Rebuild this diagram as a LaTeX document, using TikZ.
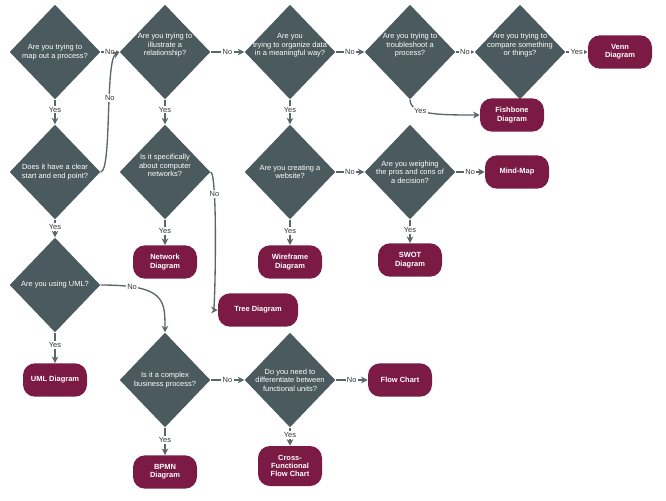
\documentclass[tikz,border=0pt]{standalone}
\usepackage{fontspec}
\setmainfont{Liberation Sans}
\usetikzlibrary{shapes.geometric,arrows.meta}
\definecolor{dia}{HTML}{4A5A5E}
\definecolor{term}{HTML}{7A1A45}
\definecolor{ln}{HTML}{5A6668}
\tikzset{
 dia/.style={diamond,fill=dia,draw=none,minimum width=68pt,minimum height=71pt,inner sep=0pt},
 dtext/.style={text=white,font=\fontsize{5.6}{6.3}\selectfont,align=center},
 term/.style={rounded corners=9pt,fill=term,text=white,font=\bfseries\fontsize{5.6}{6.3}\selectfont,align=center,minimum width=48pt,minimum height=25pt,inner sep=1pt},
 con/.style={draw=ln,line width=1pt,-{Stealth[length=5pt,width=5pt]}},
 lab/.style={fill=white,text=black!80,font=\fontsize{5.6}{6.3}\selectfont,inner sep=1pt},
}
\begin{document}
\begin{tikzpicture}[x=0.75pt,y=-0.75pt]
\useasboundingbox (0,0) rectangle (666,500);
\foreach \n/\x/\y in {d1/55/52,d2/55/172,d3/55/285,d4/165/52,d5/165/172,d6/290/52,d7/290/172,d8/410/52,d9/410/172,d10/520/52,d11/165/380,d12/290/380}
  \node[dia] (\n) at (\x,\y) {};
\node[dtext] at (d1) {Are you trying to\\map out a process?};
\node[dtext] at (d2) {Does it have a clear\\start and end point?};
\node[dtext] at (d3) {Are you using UML?};
\node[dtext] at ([yshift=5pt]d4) {Are you trying to\\illustrate a\\relationship?};
\node[dtext] at ([yshift=5pt]d5) {Is it specifically\\about computer\\networks?};
\node[dtext] at ([yshift=5pt]d6) {Are you\\trying to organize data\\in a meaningful way?};
\node[dtext] at (d7) {Are you creating a\\website?};
\node[dtext] at ([yshift=5pt]d8) {Are you trying to\\troubleshoot a\\process?};
\node[dtext] at (d9) {Are you weighing\\the pros and cons of\\a decision?};
\node[dtext] at ([yshift=5pt]d10) {Are you trying to\\compare something\\or things?};
\node[dtext] at (d11) {Is it a complex\\business process?};
\node[dtext] at (d12) {Do you need to\\differentiate between\\functional units?};
\node[term] (venn) at (620,52) {Venn\\Diagram};
\node[term] (fish) at (512,115) {Fishbone\\Diagram};
\node[term] (mind) at (517,172) {Mind-Map};
\node[term] (net) at (165,262) {Network\\Diagram};
\node[term] (wire) at (290,262) {Wireframe\\Diagram};
\node[term] (swot) at (410,260) {SWOT\\Diagram};
\node[term,minimum width=60pt] (tree) at (258,310) {Tree Diagram};
\node[term] (uml) at (55,380) {UML Diagram};
\node[term] (flow) at (400,380) {Flow Chart};
\node[term] (bpmn) at (165,472) {BPMN\\Diagram};
\node[term,minimum height=30pt] (cross) at (290,466) {Cross-\\Functional\\Flow Chart};
\draw[con] (d1) -- node[lab,pos=0.4]{Yes} (d2);
\draw[con] (d2) -- node[lab,pos=0.4]{Yes} (d3);
\draw[con] (d3) -- node[lab,pos=0.4]{Yes} (uml);
\draw[con] (d1) -- node[lab]{No} (d4);
\draw[con] (d4) -- node[lab,pos=0.4]{Yes} (d5);
\draw[con] (d5) -- node[lab,pos=0.45]{Yes} (net);
\draw[con] (d4) -- node[lab]{No} (d6);
\draw[con] (d6) -- node[lab,pos=0.4]{Yes} (d7);
\draw[con] (d7) -- node[lab,pos=0.45]{Yes} (wire);
\draw[con] (d6) -- node[lab]{No} (d8);
\draw[con] (d8) -- node[lab]{No} (d10);
\draw[con] (d10) -- node[lab]{Yes} (venn);
\draw[con] (d7) -- node[lab]{No} (d9);
\draw[con] (d9) -- node[lab,pos=0.45]{Yes} (swot);
\draw[con] (d9) -- node[lab]{No} (mind);
\draw[con] (d11) -- node[lab,pos=0.45]{Yes} (bpmn);
\draw[con] (d11) -- node[lab]{No} (d12);
\draw[con] (d12) -- node[lab,pos=0.4]{Yes} (cross);
\draw[con] (d12) -- node[lab]{No} (flow);
\draw[con] (d2.east) .. controls (112,172) and (105,60) .. node[lab,pos=0.6]{No} (d4.west);
\draw[con] (d5.east) .. controls (218,172) and (215,310) .. node[lab,pos=0.25]{No} (tree.west);
\draw[con] (d3.east) .. controls (165,285) and (165,300) .. node[lab,pos=0.2]{No} (d11.north);
\draw[con] (d8.south) .. controls (410,115) and (440,115) .. node[lab,pos=0.35]{Yes} (fish.west);
\end{tikzpicture}
\end{document}
